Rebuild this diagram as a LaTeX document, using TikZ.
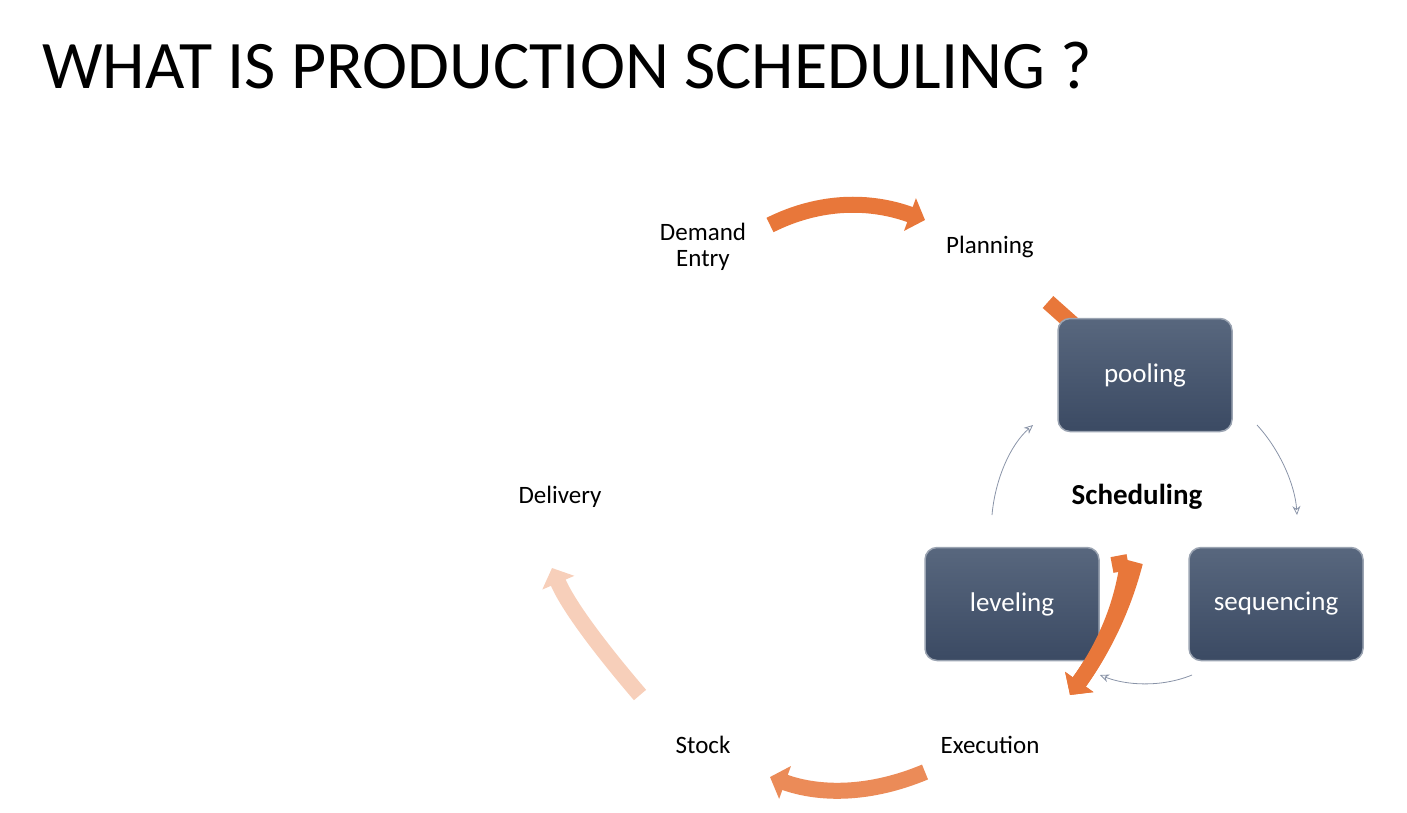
\documentclass[tikz,border=0pt]{standalone}
\usepackage{fontspec}
\setmainfont{Carlito}
\usetikzlibrary{arrows.meta,shadows}
\definecolor{boxtop}{HTML}{58677E}
\definecolor{boxbot}{HTML}{3B4A63}
\definecolor{org}{HTML}{E8773A}
\definecolor{gr}{HTML}{8A94A8}
\tikzset{
  box/.style={draw=boxtop!60!white,line width=1.5pt,rounded corners=12pt,top color=boxtop,bottom color=boxbot,
    minimum width=174pt,minimum height=113pt,text=white,font=\fontsize{27}{30}\selectfont,inner sep=0pt},
  lbl/.style={font=\fontsize{25}{30}\selectfont,align=center,inner sep=1pt},
  big/.style={line width=16pt,draw=org,-{Triangle[width=34pt,length=16pt]}},
  thin/.style={draw=gr,line width=0.8pt,-{Stealth[open,length=9pt,width=8pt]}}
}
\begin{document}
\begin{tikzpicture}[x=1pt,y=-1pt]
\useasboundingbox (0,0) rectangle (1407,812);
\node[anchor=west,font=\fontsize{68}{70}\selectfont,inner sep=0pt] (title) at (42,66) {WHAT IS PRODUCTION SCHEDULING ?};
\node[lbl] (demand) at (703,247) {Demand\\[-4pt]Entry};
\node[lbl] (planning) at (990,247) {Planning};
\node[lbl] (delivery) at (560,497) {Delivery};
\node[lbl] (stock) at (703,745) {Stock};
\node[lbl] (execution) at (990,745) {Execution};
\coordinate (a1) at (770,225); \coordinate (a2) at (925,220);
\coordinate (b1) at (925,772); \coordinate (b2) at (770,777);
\coordinate (c1) at (640,695); \coordinate (c2) at (552,568);
\coordinate (d1) at (1048,302); \coordinate (d2) at (1085,335);
\coordinate (e1) at (1135,562); \coordinate (e2) at (1070,695);
\draw[big] (a1) .. controls (820,200) and (870,200) .. (a2);
\draw[big,draw=org!85!white] (b1) .. controls (870,795) and (820,795) .. (b2);
\draw[big,draw=org!35!white] (c1) .. controls (610,660) and (570,610) .. (c2);
\draw[line width=16pt,draw=org] (d1) -- (d2);
\draw[big] (e1) .. controls (1120,620) and (1095,660) .. (e2);
\node[box] (pooling) at (1145,375) {pooling};
\node[box] (leveling) at (1012,604) {leveling};
\node[box] (sequencing) at (1276,604) {sequencing};
\draw[line width=16pt,draw=org] (1112,565) -- (1128,562);
\draw[big] (1128,562) .. controls (1120,620) and (1095,660) .. (e2);
\node[font=\bfseries\fontsize{29}{32}\selectfont] (sched) at (1137,497) {Scheduling};
\draw[thin] (992,515) .. controls (995,480) and (1010,445) .. (1033,425);
\draw[thin] (1257,425) .. controls (1280,450) and (1295,485) .. (1297,515);
\draw[thin] (1192,675) .. controls (1160,688) and (1125,685) .. (1100,675);
\end{tikzpicture}
\end{document}
